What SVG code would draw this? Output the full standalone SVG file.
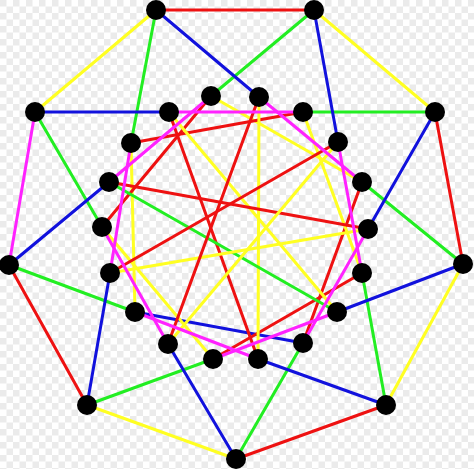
<svg xmlns="http://www.w3.org/2000/svg" width="474" height="469" viewBox="0 0 474 469">
<style>
line{stroke-width:3;stroke-linecap:round}
.r{stroke:#ee1111}.y{stroke:#ffff22}.g{stroke:#22ee22}.b{stroke:#1111dd}.m{stroke:#ff22ff}
circle{fill:#000}
</style>
<defs>
<pattern id="chk" width="13" height="13" patternUnits="userSpaceOnUse">
<rect width="13" height="13" fill="#ffffff"/>
<rect width="6.5" height="6.5" fill="#ebebeb"/>
<rect x="6.5" y="6.5" width="6.5" height="6.5" fill="#ebebeb"/>
</pattern>
</defs>
<rect width="474" height="469" fill="url(#chk)"/>
<g id="connectors">
<line class="r" x1="156" y1="10" x2="314" y2="10"/>
<line class="y" x1="314" y1="10" x2="435" y2="112"/>
<line class="r" x1="435" y1="112" x2="463" y2="264"/>
<line class="y" x1="463" y1="264" x2="386" y2="405"/>
<line class="r" x1="386" y1="405" x2="236" y2="459"/>
<line class="y" x1="236" y1="459" x2="87" y2="405"/>
<line class="r" x1="87" y1="405" x2="9" y2="265"/>
<line class="m" x1="9" y1="265" x2="35" y2="112"/>
<line class="y" x1="35" y1="112" x2="156" y2="10"/>
<line class="g" x1="156" y1="10" x2="131" y2="143"/>
<line class="g" x1="314" y1="10" x2="211" y2="96"/>
<line class="g" x1="435" y1="112" x2="303" y2="112"/>
<line class="g" x1="463" y1="264" x2="362" y2="182"/>
<line class="g" x1="386" y1="405" x2="362" y2="273"/>
<line class="g" x1="236" y1="459" x2="303" y2="343"/>
<line class="g" x1="87" y1="405" x2="213" y2="359"/>
<line class="g" x1="9" y1="265" x2="135" y2="312"/>
<line class="g" x1="35" y1="112" x2="102" y2="227"/>
<line class="b" x1="156" y1="10" x2="259" y2="97"/>
<line class="b" x1="314" y1="10" x2="338" y2="142"/>
<line class="b" x1="435" y1="112" x2="368" y2="229"/>
<line class="b" x1="463" y1="264" x2="337" y2="312"/>
<line class="b" x1="386" y1="405" x2="258" y2="359"/>
<line class="b" x1="236" y1="459" x2="168" y2="344"/>
<line class="b" x1="87" y1="405" x2="110" y2="273"/>
<line class="b" x1="9" y1="265" x2="109" y2="182"/>
<line class="b" x1="35" y1="112" x2="169" y2="112"/>
<line class="y" x1="211" y1="96" x2="362" y2="182"/>
<line class="r" x1="362" y1="182" x2="303" y2="343"/>
<line class="b" x1="303" y1="343" x2="135" y2="312"/>
<line class="y" x1="135" y1="312" x2="131" y2="143"/>
<line class="r" x1="131" y1="143" x2="303" y2="112"/>
<line class="y" x1="303" y1="112" x2="362" y2="273"/>
<line class="r" x1="362" y1="273" x2="213" y2="359"/>
<line class="y" x1="213" y1="359" x2="102" y2="227"/>
<line class="r" x1="102" y1="227" x2="211" y2="96"/>
<line class="y" x1="259" y1="97" x2="258" y2="359"/>
<line class="r" x1="258" y1="359" x2="169" y2="112"/>
<line class="y" x1="169" y1="112" x2="337" y2="312"/>
<line class="g" x1="337" y1="312" x2="109" y2="182"/>
<line class="r" x1="109" y1="182" x2="368" y2="229"/>
<line class="y" x1="368" y1="229" x2="110" y2="273"/>
<line class="r" x1="110" y1="273" x2="338" y2="142"/>
<line class="y" x1="338" y1="142" x2="168" y2="344"/>
<line class="r" x1="168" y1="344" x2="259" y2="97"/>
<line class="m" x1="211" y1="96" x2="109" y2="182"/>
<line class="m" x1="303" y1="112" x2="169" y2="112"/>
<line class="m" x1="362" y1="182" x2="259" y2="97"/>
<line class="m" x1="362" y1="273" x2="338" y2="142"/>
<line class="m" x1="303" y1="343" x2="368" y2="229"/>
<line class="m" x1="213" y1="359" x2="337" y2="312"/>
<line class="m" x1="135" y1="312" x2="258" y2="359"/>
<line class="m" x1="102" y1="227" x2="168" y2="344"/>
<line class="m" x1="131" y1="143" x2="110" y2="273"/>
</g>
<g id="o1"><circle cx="156" cy="10" r="10"/></g>
<g id="o2"><circle cx="314" cy="10" r="10"/></g>
<g id="o3"><circle cx="435" cy="112" r="10"/></g>
<g id="o4"><circle cx="463" cy="264" r="10"/></g>
<g id="o5"><circle cx="386" cy="405" r="10"/></g>
<g id="o6"><circle cx="236" cy="459" r="10"/></g>
<g id="o7"><circle cx="87" cy="405" r="10"/></g>
<g id="o8"><circle cx="9" cy="265" r="10"/></g>
<g id="o9"><circle cx="35" cy="112" r="10"/></g>
<g id="j0"><circle cx="211" cy="96" r="10"/></g>
<g id="j1"><circle cx="259" cy="97" r="10"/></g>
<g id="j2"><circle cx="303" cy="112" r="10"/></g>
<g id="j3"><circle cx="338" cy="142" r="10"/></g>
<g id="j4"><circle cx="362" cy="182" r="10"/></g>
<g id="j5"><circle cx="368" cy="229" r="10"/></g>
<g id="j6"><circle cx="362" cy="273" r="10"/></g>
<g id="j7"><circle cx="337" cy="312" r="10"/></g>
<g id="j8"><circle cx="303" cy="343" r="10"/></g>
<g id="j9"><circle cx="258" cy="359" r="10"/></g>
<g id="j10"><circle cx="213" cy="359" r="10"/></g>
<g id="j11"><circle cx="168" cy="344" r="10"/></g>
<g id="j12"><circle cx="135" cy="312" r="10"/></g>
<g id="j13"><circle cx="110" cy="273" r="10"/></g>
<g id="j14"><circle cx="102" cy="227" r="10"/></g>
<g id="j15"><circle cx="109" cy="182" r="10"/></g>
<g id="j16"><circle cx="131" cy="143" r="10"/></g>
<g id="j17"><circle cx="169" cy="112" r="10"/></g>
</svg>
